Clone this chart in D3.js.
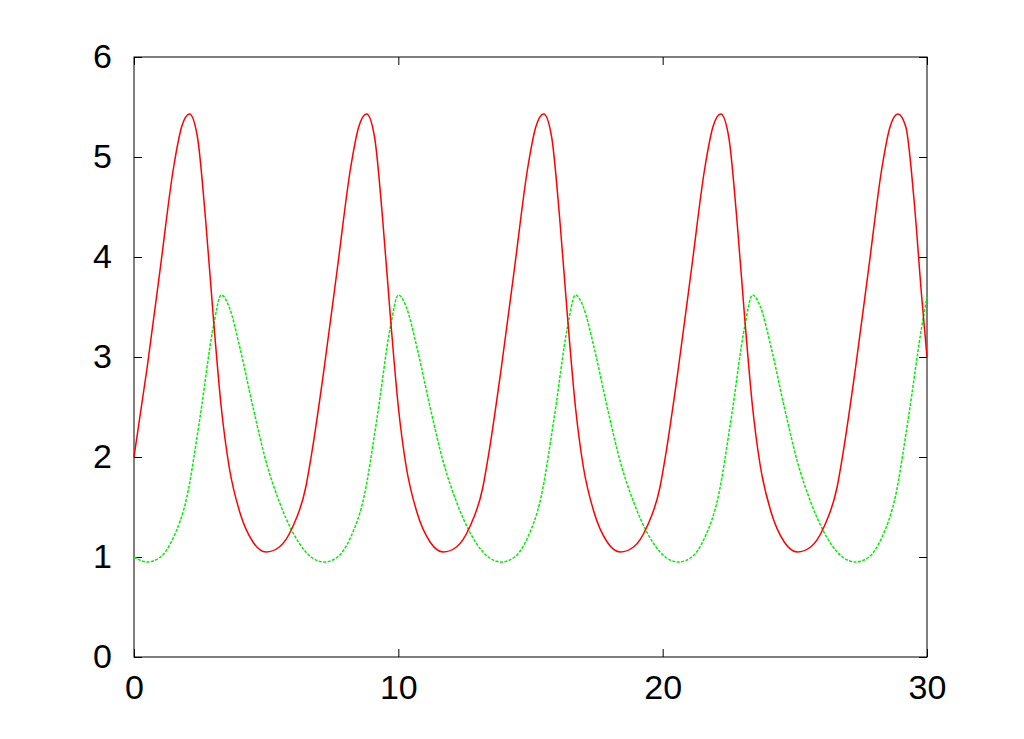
<!DOCTYPE html>
<html><head><meta charset="utf-8">
<script src="https://d3js.org/d3.v7.min.js"></script>
<style>body{margin:0;background:#fff}</style></head>
<body><svg id="c" width="1024" height="739"></svg>
<script>
const xTicks=[0,10,20,30];
const yTicks=[0,1,2,3,4,5,6];
const redT=[0,0.5,1,1.5,1.8,2.1,2.4,2.7,3,3.3,3.6,4,4.5,5,5.5,6,6.5,
6.7,7.2,7.7,8.2,8.5,8.8,9.1,9.4,9.7,10,10.3,10.7,11.2,11.7,12.2,12.7,13.2,
13.4,13.9,14.4,14.9,15.2,15.5,15.8,16.1,16.4,16.7,17,17.4,17.9,18.4,18.9,19.4,19.9,
20.1,20.6,21.1,21.6,21.9,22.2,22.5,22.8,23.1,23.4,23.7,24.1,24.6,25.1,25.6,26.1,26.6,
26.8,27.3,27.8,28.3,28.6,28.9,29.2,29.5,29.8,30];
const redV=[2,2.9,3.9,4.9,5.3,5.43,5.2,4.4,3.4,2.5,1.9,1.45,1.15,1.05,1.1,1.3,1.7,
2,2.9,3.9,4.9,5.3,5.43,5.2,4.4,3.4,2.5,1.9,1.45,1.15,1.05,1.1,1.3,1.7,
2,2.9,3.9,4.9,5.3,5.43,5.2,4.4,3.4,2.5,1.9,1.45,1.15,1.05,1.1,1.3,1.7,
2,2.9,3.9,4.9,5.3,5.43,5.2,4.4,3.4,2.5,1.9,1.45,1.15,1.05,1.1,1.3,1.7,
2,2.9,3.9,4.9,5.3,5.43,5.3,4.6,3.6,3.0];
const greenT=[0,0.5,1,1.5,2,2.5,3,3.3,3.6,4,4.5,5,5.5,6,6.5,
6.7,7.2,7.7,8.2,8.7,9.2,9.7,10,10.3,10.7,11.2,11.7,12.2,12.7,13.2,
13.4,13.9,14.4,14.9,15.4,15.9,16.4,16.7,17,17.4,17.9,18.4,18.9,19.4,19.9,
20.1,20.6,21.1,21.6,22.1,22.6,23.1,23.4,23.7,24.1,24.6,25.1,25.6,26.1,26.6,
26.8,27.3,27.8,28.3,28.8,29.3,29.8,30];
const greenV=[1,0.95,1,1.2,1.6,2.4,3.3,3.62,3.5,3.1,2.5,1.95,1.55,1.25,1.05,
1,0.95,1,1.2,1.6,2.4,3.3,3.62,3.5,3.1,2.5,1.95,1.55,1.25,1.05,
1,0.95,1,1.2,1.6,2.4,3.3,3.62,3.5,3.1,2.5,1.95,1.55,1.25,1.05,
1,0.95,1,1.2,1.6,2.4,3.3,3.62,3.5,3.1,2.5,1.95,1.55,1.25,1.05,
1,0.95,1,1.2,1.6,2.4,3.3,3.6];

const svg=d3.select("#c");
const L=134,R=927,T=57,B=657;
const x=d3.scaleLinear().domain([0,30]).range([L,R]);
const y=d3.scaleLinear().domain([0,6]).range([B,T]);
const font="'Liberation Sans',Arial,sans-serif";
const tl=8;
function axis(g,gen){g.call(gen);g.select(".domain").remove();g.selectAll("line").attr("stroke","#000");g.selectAll("text").attr("font-family",font).attr("font-size",34).attr("fill","#000");}
axis(svg.append("g").attr("transform",`translate(0,${B})`),d3.axisBottom(x).tickValues(xTicks).tickSize(-tl).tickPadding(tl+10).tickFormat(d3.format("d")));
axis(svg.append("g").attr("transform",`translate(0,${T})`),d3.axisTop(x).tickValues(xTicks).tickSize(-tl).tickFormat(""));
axis(svg.append("g").attr("transform",`translate(${L},0)`),d3.axisLeft(y).tickValues(yTicks).tickSize(-tl).tickPadding(tl+14).tickFormat(d3.format("d")));
axis(svg.append("g").attr("transform",`translate(${R},0)`),d3.axisRight(y).tickValues(yTicks).tickSize(-tl).tickFormat(""));
svg.append("rect").attr("x",L).attr("y",T).attr("width",R-L).attr("height",B-T).attr("fill","none").attr("stroke","#000");
const line=d3.line().x(d=>x(d[0])).y(d=>y(d[1])).curve(d3.curveMonotoneX);
svg.append("path").datum(greenT.map((t,i)=>[t,greenV[i]])).attr("d",line).attr("fill","none").attr("stroke","#00ee00").attr("stroke-width",1.5).attr("stroke-dasharray","3,1.5");
svg.append("path").datum(redT.map((t,i)=>[t,redV[i]])).attr("d",line).attr("fill","none").attr("stroke","#ff0000").attr("stroke-width",1.5);
</script></body></html>
